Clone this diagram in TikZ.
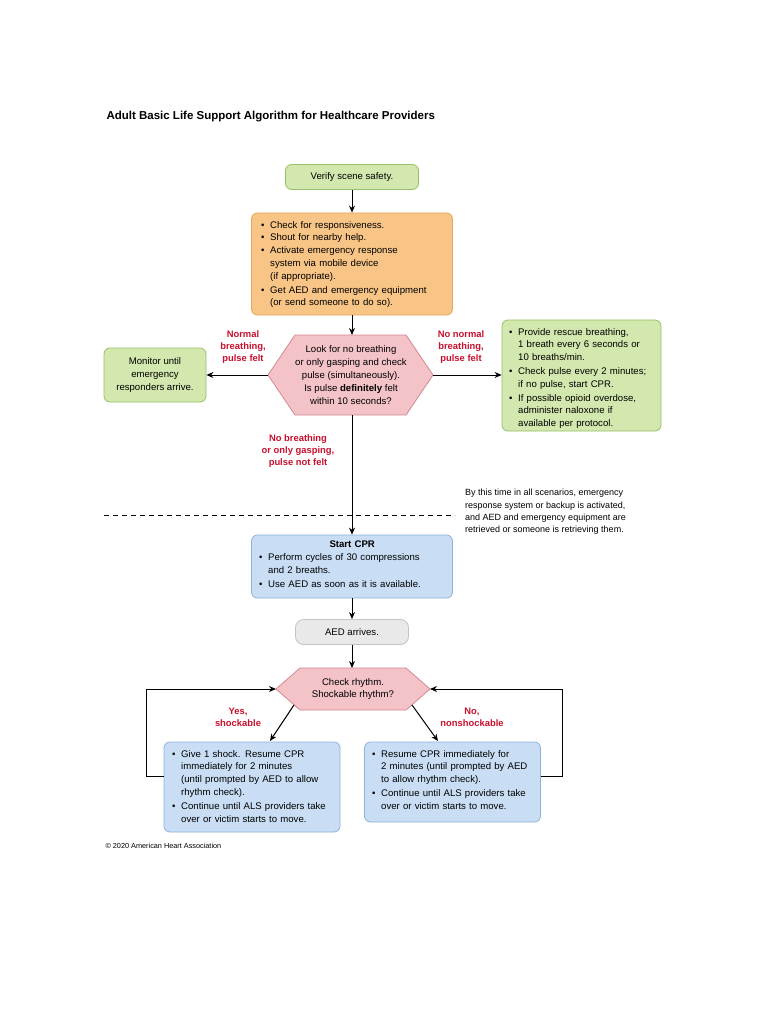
\documentclass[tikz,border=0pt]{standalone}
\usepackage{fontspec}
\setmainfont{Liberation Sans}
\usetikzlibrary{shapes.geometric,arrows.meta}
\newcommand\itm[1]{\noindent\makebox[9pt][l]{\textbullet}\begin{tabular}[t]{@{}l@{}}#1\end{tabular}\par}
\definecolor{gfill}{HTML}{D3E8AE}\definecolor{gdraw}{HTML}{98C06A}
\definecolor{ofill}{HTML}{F8C586}\definecolor{odraw}{HTML}{E6A55C}
\definecolor{pfill}{HTML}{F4C3C8}\definecolor{pdraw}{HTML}{D48790}
\definecolor{bfill}{HTML}{C9DEF4}\definecolor{bdraw}{HTML}{8DB2DA}
\definecolor{lfill}{HTML}{E9E9E9}\definecolor{ldraw}{HTML}{C4C4C4}
\definecolor{lab}{HTML}{C8102E}
\begin{document}
\begin{tikzpicture}[x=1pt,y=-1pt,
 tx/.style={font=\fontsize{9.6}{12.8}\selectfont},
 box/.style={rounded corners=6pt,line width=0.8pt,inner sep=0pt,tx},
 bl/.style={anchor=north west,text width=#1,tx,inner sep=0pt},
 lbl/.style={text=lab,font=\bfseries\fontsize{9.4}{11.8}\selectfont,align=center},
 arr/.style={-{Stealth[length=7pt,width=6pt]},line width=1pt}]
\useasboundingbox (0,0) rectangle (768,1024);
\fill[white] (0,0) rectangle (768,1024);
\node[anchor=west,font=\bfseries\fontsize{11.5}{13}\selectfont] (title) at (103,117) {Adult Basic Life Support Algorithm for Healthcare Providers};
\node[box,fill=gfill,draw=gdraw,minimum width=133pt,minimum height=25pt] (verify) at (352,177) {Verify scene safety.};
\node[box,fill=ofill,draw=odraw,minimum width=201pt,minimum height=102pt] (check) at (352,264) {};
\node[bl=190pt] at (261,219) {%
\itm{Check for responsiveness.}\itm{Shout for nearby help.}\itm{Activate emergency response\\system via mobile device\\(if appropriate).}\itm{Get AED and emergency equipment\\(or send someone to do so).}};
\path[draw=pdraw,fill=pfill,line width=0.8pt] (268,375)--(295,335)--(406,335)--(433,375)--(406,415)--(295,415)--cycle;
\node[align=center,tx] (look) at (351,375) {Look for no breathing\\or only gasping and check\\pulse (simultaneously).\\Is pulse \textbf{definitely} felt\\within 10 seconds?};
\coordinate (hl) at (268,375); \coordinate (hr) at (433,375); \coordinate (hb) at (352,415);
\node[box,fill=gfill,draw=gdraw,minimum width=102pt,minimum height=54pt,align=center] (mon) at (155,375) {Monitor until\\emergency\\responders arrive.};
\node[box,fill=gfill,draw=gdraw,minimum width=159pt,minimum height=111pt] (rescue) at (581.5,375.5) {};
\node[bl=155pt] at (509,326) {%
\itm{Provide rescue breathing,\\1 breath every 6 seconds or\\10 breaths/min.}\itm{Check pulse every 2 minutes;\\if no pulse, start CPR.}\itm{If possible opioid overdose,\\administer naloxone if\\available per protocol.}};
\node[lbl] at (243,347) {Normal\\breathing,\\pulse felt};
\node[lbl] at (461,347) {No normal\\breathing,\\pulse felt};
\node[lbl] at (298,451) {No breathing\\or only gasping,\\pulse not felt};
\draw[line width=1pt,dash pattern=on 5pt off 4pt] (104,515)--(455,515);
\node[anchor=north west,inner sep=0pt,align=left,font=\fontsize{9}{12.3}\selectfont] (note) at (465,489) {By this time in all scenarios, emergency\\response system or backup is activated,\\and AED and emergency equipment are\\retrieved or someone is retrieving them.};
\node[box,fill=bfill,draw=bdraw,minimum width=201pt,minimum height=63pt] (cpr) at (352,566.5) {};
\node[bl=190pt] at (259,541) {%
\noindent\makebox[186pt]{\textbf{Start CPR}}\par\itm{Perform cycles of 30 compressions\\and 2 breaths.}\itm{Use AED as soon as it is available.}};
\node[box,rounded corners=8pt,fill=lfill,draw=ldraw,minimum width=113pt,minimum height=25pt] (aed) at (352,632) {AED arrives.};
\path[draw=pdraw,fill=pfill,line width=0.8pt] (276,689)--(300,668)--(406,668)--(430,689)--(406,710)--(300,710)--cycle;
\node[align=center,tx] (rhythm) at (353,689) {Check rhythm.\\Shockable rhythm?};
\coordinate (rl) at (276,689); \coordinate (rr) at (430,689);
\coordinate (rbl) at (294,705); \coordinate (rbr) at (412,705);
\node[lbl] at (238,717) {Yes,\\shockable};
\node[lbl] at (472,717) {No,\\nonshockable};
\node[box,fill=bfill,draw=bdraw,minimum width=176pt,minimum height=90pt] (shock) at (252,787) {};
\node[bl=170pt] at (172,748) {%
\itm{Give 1 shock. Resume CPR\\immediately for 2 minutes\\(until prompted by AED to allow\\rhythm check).}\itm{Continue until ALS providers take\\over or victim starts to move.}};
\node[box,fill=bfill,draw=bdraw,minimum width=176pt,minimum height=80pt] (noshock) at (452.5,782) {};
\node[bl=170pt] at (372,748) {%
\itm{Resume CPR immediately for\\2 minutes (until prompted by AED\\to allow rhythm check).}\itm{Continue until ALS providers take\\over or victim starts to move.}};
\node[anchor=west,font=\fontsize{7.3}{8}\selectfont] (copy) at (102,846) {© 2020 American Heart Association};
\draw[arr] (verify)--(check);
\draw[arr] (check)--(352,335);
\draw[arr] (hl)--(mon);
\draw[arr] (hr)--(rescue.west|-hr);
\draw[arr] (hb)--(cpr);
\draw[arr] (cpr)--(aed);
\draw[arr] (aed)--(352,668);
\draw[arr] (rbl)--(270,741);
\draw[arr] (rbr)--(438,741);
\draw[arr] (shock.west|-0,776)--(146,776)--(146,689)--(rl);
\draw[arr] (noshock.east|-0,776)--(562,776)--(562,689)--(rr);
\end{tikzpicture}
\end{document}
